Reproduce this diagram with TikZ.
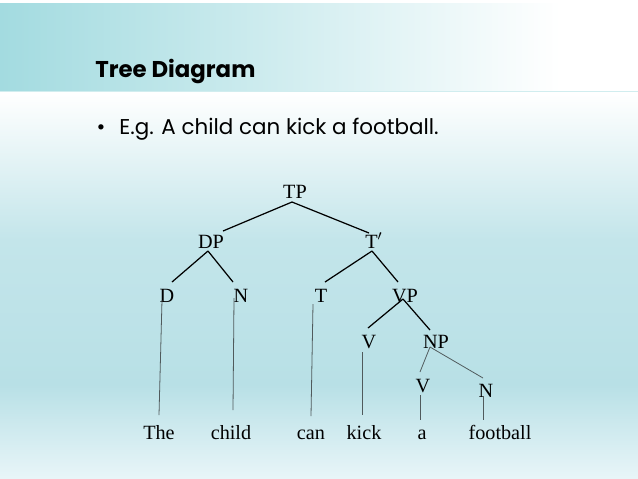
\documentclass[tikz,border=0pt]{standalone}
\usepackage{fontspec}
\setmainfont{Liberation Serif}
\newfontfamily\headfont{Poppins}
\newfontfamily\bodyfont{Poppins}
\usetikzlibrary{calc}
\definecolor{bandteal}{HTML}{A3DBE0}
\definecolor{bgmid}{HTML}{C3E5EA}
\definecolor{bglow}{HTML}{B8E0E6}
\definecolor{bgbot}{HTML}{E8F5F8}
\definecolor{thinline}{HTML}{505A5C}
\tikzset{
  x=0.02cm, y=-0.02cm,
  lab/.style={font=\fontsize{11.5}{12}\selectfont, inner sep=0pt, text height=8pt, text depth=0pt},
  word/.style={font=\fontsize{11.5}{12}\selectfont, inner sep=0pt, anchor=base},
  branch/.style={line width=0.7pt, black},
  thin/.style={line width=0.45pt, thinline},
}
\begin{document}
\begin{tikzpicture}
\useasboundingbox (0,0) rectangle (638,478);
% background
\fill[white] (0,0) rectangle (638,478);
\shade[top color=white, bottom color=bgmid] (0,93) rectangle (638,240);
\shade[top color=bgmid, bottom color=bglow] (0,240) rectangle (638,385);
\shade[top color=bglow, bottom color=bgbot] (0,385) rectangle (638,478);
\shade[left color=bandteal, right color=bandteal!60!white] (0,3) rectangle (230,91);
\shade[left color=bandteal!60!white, right color=white] (230,3) rectangle (560,91);
\fill[white] (560,3) rectangle (638,91);
\draw[bandteal!50!white, line width=0.6pt] (0,91.5) -- (638,91.5);
% title and bullet
\node[anchor=base west, inner sep=0pt, font=\headfont\bfseries\fontsize{13}{14}\selectfont] (title) at (95,77) {Tree Diagram};
\node[anchor=base, inner sep=0pt, font=\bodyfont\fontsize{12.2}{13}\selectfont] (bullet) at (101,134) {\textbullet};
\node[anchor=base west, inner sep=0pt, font=\bodyfont\fontsize{12.2}{13}\selectfont] (line1) at (119,134) {E.g. A child can kick a football.};
% tree nodes
\node[lab] (TP) at (295,191) {TP};
\node[lab] (DP) at (211,241) {DP};
\node[lab] (Tb) at (374,241) {T$'$};
\node[lab] (D) at (167,295) {D};
\node[lab] (N1) at (241,295) {N};
\node[lab] (T) at (321,295) {T};
\node[lab] (VP) at (405,295) {VP};
\node[lab] (V1) at (369,341) {V};
\node[lab] (NP) at (436,341) {NP};
\node[lab] (V2) at (423,385) {V};
\node[lab] (N2) at (486,390) {N};
% words
\node[word] (w1) at (159,439) {The};
\node[word] (w2) at (231,439) {child};
\node[word] (w3) at (311,439) {can};
\node[word] (w4) at (364,439) {kick};
\node[word] (w5) at (422,439) {a};
\node[word] (w6) at (500,439) {football};
% anchor coordinates
\coordinate (tpb) at (292,202);
\coordinate (dpl) at (223,231);
\coordinate (tbl) at (369,233);
\coordinate (dpb) at (208,251);
\coordinate (dl) at (172,282);
\coordinate (n1l) at (233,282);
\coordinate (tbb) at (372,251);
\coordinate (tl) at (325,282);
\coordinate (vpl) at (398,282);
\coordinate (vpb) at (403,299);
\coordinate (v1l) at (368,328);
\coordinate (npl) at (430,330);
\coordinate (npb) at (430,347);
\coordinate (v2l) at (420,372);
\coordinate (n2l) at (483,378);
\draw[branch] (tpb) -- (dpl);
\draw[branch] (tpb) -- (tbl);
\draw[branch] (dpb) -- (dl);
\draw[branch] (dpb) -- (n1l);
\draw[branch] (tbb) -- (tl);
\draw[branch] (tbb) -- (vpl);
\draw[branch] (vpb) -- (v1l);
\draw[branch] (vpb) -- (npl);
\draw[thin] (npb) -- (v2l);
\draw[thin] (npb) -- (n2l);
% vertical leaf lines
\coordinate (a1) at (162,300); \coordinate (b1) at (159,415);
\coordinate (a2) at (234,298); \coordinate (b2) at (233,410);
\coordinate (a3) at (313,304); \coordinate (b3) at (311,416);
\coordinate (a4) at (362,352); \coordinate (b4) at (362,415);
\coordinate (a5) at (420,395); \coordinate (b5) at (420,420);
\coordinate (a6) at (483,396); \coordinate (b6) at (483,420);
\draw[thin] (a1) -- (b1);
\draw[thin] (a2) -- (b2);
\draw[thin] (a3) -- (b3);
\draw[thin] (a4) -- (b4);
\draw[thin] (a5) -- (b5);
\draw[thin] (a6) -- (b6);
\end{tikzpicture}
\end{document}
